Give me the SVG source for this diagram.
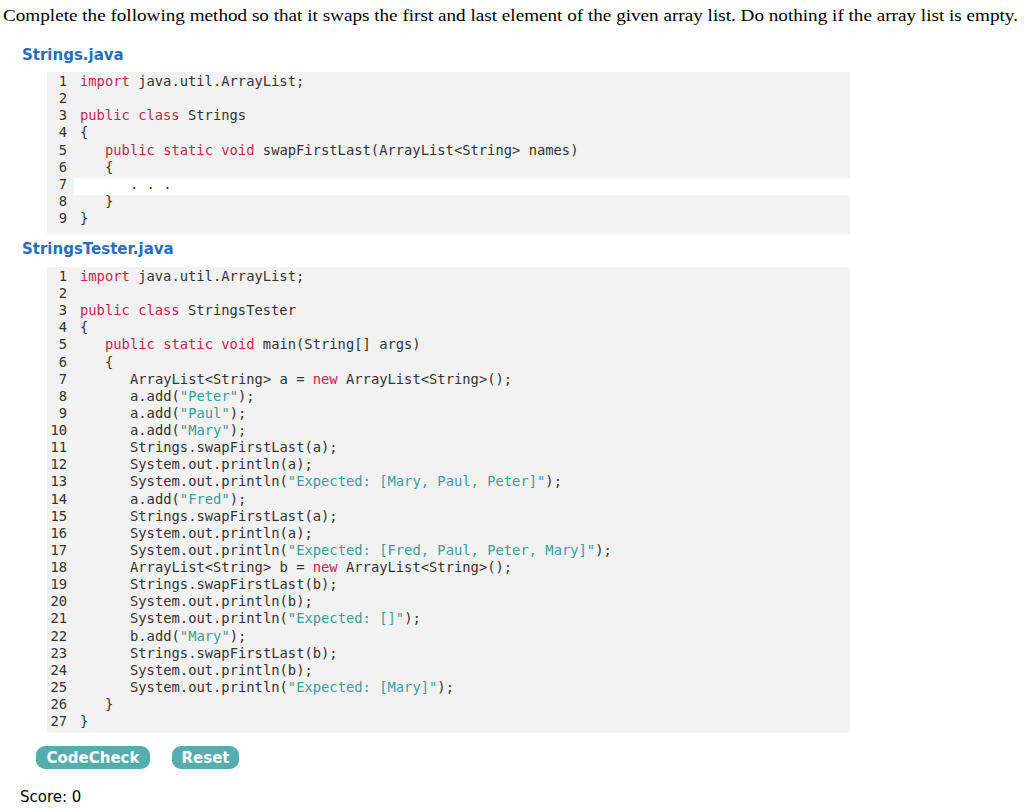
<svg xmlns="http://www.w3.org/2000/svg" width="1024" height="809" viewBox="0 0 1024 809">
<style>
.c{font-family:"DejaVu Sans Mono",monospace;font-size:13.8px;fill:#333;white-space:pre}
.n{font-family:"DejaVu Sans Mono",monospace;font-size:13.8px;fill:#333;text-anchor:end}
.k{fill:#c7254e}.s{fill:#3a9e9e}
.h{font-family:"DejaVu Sans",sans-serif;font-weight:bold;font-size:15px;fill:#2a6ebb}
.b{font-family:"DejaVu Sans",sans-serif;font-weight:bold;font-size:15px;fill:#fff;text-anchor:middle}
</style>
<rect width="1024" height="809" fill="#fff"/>
<text x="3" y="21" font-family="Liberation Serif,serif" font-size="17" fill="#000" textLength="1015" lengthAdjust="spacingAndGlyphs">Complete the following method so that it swaps the first and last element of the given array list. Do nothing if the array list is empty.</text>
<text class="h" x="22" y="60">Strings.java</text>
<rect x="47" y="72" width="803" height="162" fill="#f2f2f2"/>
<rect x="74" y="178" width="776" height="17" fill="#fff"/>
<g>
<text class="n" x="67" y="86">1</text><text class="n" x="67" y="103">2</text><text class="n" x="67" y="120">3</text><text class="n" x="67" y="137">4</text><text class="n" x="67" y="155">5</text><text class="n" x="67" y="172">6</text><text class="n" x="67" y="189">7</text><text class="n" x="67" y="206">8</text><text class="n" x="67" y="223">9</text>
<text class="c" x="80" y="86"><tspan class="k">import</tspan> java.util.ArrayList;</text>
<text class="c" x="80" y="120"><tspan class="k">public class</tspan> Strings</text>
<text class="c" x="80" y="137">{</text>
<text class="c" x="105" y="155"><tspan class="k">public static void</tspan> swapFirstLast(ArrayList&lt;String&gt; names)</text>
<text class="c" x="105" y="172">{</text>
<text class="c" x="130" y="189">. . .</text>
<text class="c" x="105" y="206">}</text>
<text class="c" x="80" y="223">}</text>
</g>
<text class="h" x="22" y="254">StringsTester.java</text>
<rect x="47" y="267" width="803" height="466" fill="#f2f2f2"/>
<g>
<text class="n" x="67" y="281">1</text><text class="n" x="67" y="298">2</text><text class="n" x="67" y="315">3</text><text class="n" x="67" y="332">4</text><text class="n" x="67" y="349">5</text><text class="n" x="67" y="367">6</text><text class="n" x="67" y="384">7</text><text class="n" x="67" y="401">8</text><text class="n" x="67" y="418">9</text><text class="n" x="67" y="435">10</text><text class="n" x="67" y="452">11</text><text class="n" x="67" y="469">12</text><text class="n" x="67" y="486">13</text><text class="n" x="67" y="504">14</text><text class="n" x="67" y="521">15</text><text class="n" x="67" y="538">16</text><text class="n" x="67" y="555">17</text><text class="n" x="67" y="572">18</text><text class="n" x="67" y="589">19</text><text class="n" x="67" y="606">20</text><text class="n" x="67" y="623">21</text><text class="n" x="67" y="641">22</text><text class="n" x="67" y="658">23</text><text class="n" x="67" y="675">24</text><text class="n" x="67" y="692">25</text><text class="n" x="67" y="709">26</text><text class="n" x="67" y="726">27</text>
<text class="c" x="80" y="281"><tspan class="k">import</tspan> java.util.ArrayList;</text>
<text class="c" x="80" y="315"><tspan class="k">public class</tspan> StringsTester</text>
<text class="c" x="80" y="332">{</text>
<text class="c" x="105" y="349"><tspan class="k">public static void</tspan> main(String[] args)</text>
<text class="c" x="105" y="367">{</text>
<text class="c" x="130" y="384">ArrayList&lt;String&gt; a = <tspan class="k">new</tspan> ArrayList&lt;String&gt;();</text>
<text class="c" x="130" y="401">a.add(<tspan class="s">"Peter"</tspan>);</text>
<text class="c" x="130" y="418">a.add(<tspan class="s">"Paul"</tspan>);</text>
<text class="c" x="130" y="435">a.add(<tspan class="s">"Mary"</tspan>);</text>
<text class="c" x="130" y="452">Strings.swapFirstLast(a);</text>
<text class="c" x="130" y="469">System.out.println(a);</text>
<text class="c" x="130" y="486">System.out.println(<tspan class="s">"Expected: [Mary, Paul, Peter]"</tspan>);</text>
<text class="c" x="130" y="504">a.add(<tspan class="s">"Fred"</tspan>);</text>
<text class="c" x="130" y="521">Strings.swapFirstLast(a);</text>
<text class="c" x="130" y="538">System.out.println(a);</text>
<text class="c" x="130" y="555">System.out.println(<tspan class="s">"Expected: [Fred, Paul, Peter, Mary]"</tspan>);</text>
<text class="c" x="130" y="572">ArrayList&lt;String&gt; b = <tspan class="k">new</tspan> ArrayList&lt;String&gt;();</text>
<text class="c" x="130" y="589">Strings.swapFirstLast(b);</text>
<text class="c" x="130" y="606">System.out.println(b);</text>
<text class="c" x="130" y="623">System.out.println(<tspan class="s">"Expected: []"</tspan>);</text>
<text class="c" x="130" y="641">b.add(<tspan class="s">"Mary"</tspan>);</text>
<text class="c" x="130" y="658">Strings.swapFirstLast(b);</text>
<text class="c" x="130" y="675">System.out.println(b);</text>
<text class="c" x="130" y="692">System.out.println(<tspan class="s">"Expected: [Mary]"</tspan>);</text>
<text class="c" x="105" y="709">}</text>
<text class="c" x="80" y="726">}</text>
</g>
<g id="codecheck"><rect x="36" y="746" width="114" height="23" rx="9" fill="#56adad"/><text class="b" x="93" y="763">CodeCheck</text></g>
<g id="reset"><rect x="172" y="746" width="67" height="23" rx="9" fill="#56adad"/><text class="b" x="205.5" y="763">Reset</text></g>
<text x="20" y="802" font-family="DejaVu Sans,sans-serif" font-size="15" fill="#000">Score: 0</text>
</svg>
